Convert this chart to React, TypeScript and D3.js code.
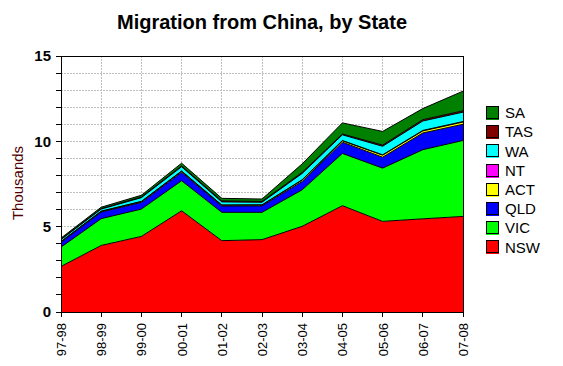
import { useEffect, useRef } from 'react';
import * as d3 from 'd3';

const years = ['97-98', '98-99', '99-00', '00-01', '01-02', '02-03', '03-04', '04-05', '05-06', '06-07', '07-08'];

// thousands of migrants, per state
const NSW = [2.67, 3.90, 4.43, 5.93, 4.18, 4.24, 5.02, 6.23, 5.31, 5.46, 5.60];
const VIC = [1.13, 1.57, 1.60, 1.76, 1.66, 1.60, 2.14, 3.06, 3.12, 4.05, 4.45];
const QLD = [0.28, 0.39, 0.39, 0.50, 0.37, 0.38, 0.49, 0.66, 0.64, 0.98, 0.95];
const ACT = [0.04, 0.04, 0.05, 0.06, 0.05, 0.05, 0.08, 0.08, 0.12, 0.12, 0.13];
const NT = [0.01, 0.01, 0.01, 0.01, 0.01, 0.01, 0.02, 0.02, 0.02, 0.03, 0.03];
const WA = [0.11, 0.12, 0.22, 0.25, 0.18, 0.15, 0.37, 0.33, 0.50, 0.55, 0.55];
const TAS = [0.03, 0.03, 0.04, 0.05, 0.06, 0.05, 0.06, 0.05, 0.07, 0.08, 0.08];
const SA = [0.06, 0.08, 0.10, 0.16, 0.15, 0.14, 0.50, 0.65, 0.80, 0.65, 1.15];

const states = ['NSW', 'VIC', 'QLD', 'ACT', 'NT', 'WA', 'TAS', 'SA'];
const seriesValues = [NSW, VIC, QLD, ACT, NT, WA, TAS, SA];
const colors = ['#ff0000', '#00ff00', '#0000ff', '#ffff00', '#ff00ff', '#00ffff', '#800000', '#008000'];

const yMajorTicks = [0, 5, 10, 15];

export default function App() {
    const svgRef = useRef<SVGSVGElement>(null);

    useEffect(() => {
        if (!svgRef.current) return;
        const svg = d3.select(svgRef.current);
        svg.selectAll('*').remove();

        const left = 61, right = 463, top = 56, bottom = 312;
        const font = 'Arial, "Liberation Sans", sans-serif';

        const x = d3.scalePoint<string>().domain(years).range([left, right]);
        const y = d3.scaleLinear().domain([0, 15]).range([bottom, top]);

        // table for d3.stack
        const table = years.map((yr, i) => {
            const row: Record<string, number | string> = { year: yr };
            states.forEach((s, j) => { row[s] = seriesValues[j][i]; });
            return row;
        });
        const stacked = d3.stack<Record<string, number | string>>().keys(states)(table);

        // grid
        const grid = svg.append('g')
            .attr('stroke', '#c0c0c0')
            .attr('stroke-dasharray', '2,1')
            .attr('shape-rendering', 'crispEdges');
        d3.range(1, 15).forEach(v => {
            grid.append('line')
                .attr('x1', left).attr('x2', right)
                .attr('y1', y(v)).attr('y2', y(v));
        });
        years.slice(1, -1).forEach(yr => {
            grid.append('line')
                .attr('x1', x(yr)!).attr('x2', x(yr)!)
                .attr('y1', top).attr('y2', bottom);
        });

        // areas
        const area = d3.area<d3.SeriesPoint<Record<string, number | string>>>()
            .x(d => x(d.data.year as string)!)
            .y0(d => y(d[0]))
            .y1(d => y(d[1]));
        const line = d3.line<d3.SeriesPoint<Record<string, number | string>>>()
            .x(d => x(d.data.year as string)!)
            .y(d => y(d[1]));

        svg.append('g')
            .selectAll('path')
            .data(stacked)
            .join('path')
            .attr('d', d => area(d))
            .attr('fill', (d, i) => colors[i]);

        svg.append('g')
            .selectAll('path')
            .data(stacked)
            .join('path')
            .attr('d', d => line(d))
            .attr('fill', 'none')
            .attr('stroke', '#000')
            .attr('stroke-width', 1);

        // frame
        svg.append('rect')
            .attr('x', left).attr('y', top)
            .attr('width', right - left).attr('height', bottom - top)
            .attr('fill', 'none')
            .attr('stroke', '#000')
            .attr('shape-rendering', 'crispEdges');

        // y ticks
        const yt = svg.append('g').attr('shape-rendering', 'crispEdges');
        d3.range(0, 16).forEach(v => {
            yt.append('line')
                .attr('x1', left - 5).attr('x2', left)
                .attr('y1', y(v)).attr('y2', y(v))
                .attr('stroke', '#000');
        });
        svg.append('g')
            .selectAll('text')
            .data(yMajorTicks)
            .join('text')
            .attr('x', 51)
            .attr('y', d => y(d))
            .attr('dy', '0.35em')
            .attr('text-anchor', 'end')
            .attr('font-family', font)
            .attr('font-size', 15)
            .attr('font-weight', 'bold')
            .text(d => d);

        // x ticks
        years.forEach(yr => {
            svg.append('line')
                .attr('x1', x(yr)!).attr('x2', x(yr)!)
                .attr('y1', bottom).attr('y2', bottom + 5)
                .attr('stroke', '#000')
                .attr('shape-rendering', 'crispEdges');
            svg.append('text')
                .attr('transform', `translate(${x(yr)! + 0.5},323) rotate(-90)`)
                .attr('dy', '0.35em')
                .attr('text-anchor', 'end')
                .attr('font-family', font)
                .attr('font-size', 13)
                .text(yr);
        });

        // y label
        svg.append('text')
            .attr('transform', 'translate(18,183) rotate(-90)')
            .attr('dy', '0.35em')
            .attr('text-anchor', 'middle')
            .attr('font-family', font)
            .attr('font-size', 15)
            .attr('fill', '#500000')
            .text('Thousands');

        // title
        svg.append('text')
            .attr('x', (left + right) / 2)
            .attr('y', 29)
            .attr('text-anchor', 'middle')
            .attr('font-family', font)
            .attr('font-size', 20)
            .attr('font-weight', 'bold')
            .text('Migration from China, by State');

        // legend, top to bottom is SA ... NSW
        const legend = svg.append('g');
        const order = states.map((s, i) => i).reverse();
        order.forEach((idx, k) => {
            const cy = 113 + k * 19.2;
            legend.append('rect')
                .attr('x', 486.5).attr('y', cy - 6.5)
                .attr('width', 12).attr('height', 12)
                .attr('fill', colors[idx])
                .attr('stroke', '#000')
                .attr('shape-rendering', 'crispEdges');
            legend.append('line')
                .attr('x1', 486).attr('x2', 499)
                .attr('y1', cy + 6.5).attr('y2', cy + 6.5)
                .attr('stroke', colors[idx])
                .attr('shape-rendering', 'crispEdges');
            legend.append('text')
                .attr('x', 505)
                .attr('y', cy)
                .attr('dy', '0.35em')
                .attr('font-family', font)
                .attr('font-size', 15)
                .text(states[idx]);
        });
    }, []);

    return (
        <svg
            ref={svgRef}
            width={563}
            height={366}
            style={{ position: 'absolute', left: 0, top: 0, background: '#fff' }}
        />
    );
}
